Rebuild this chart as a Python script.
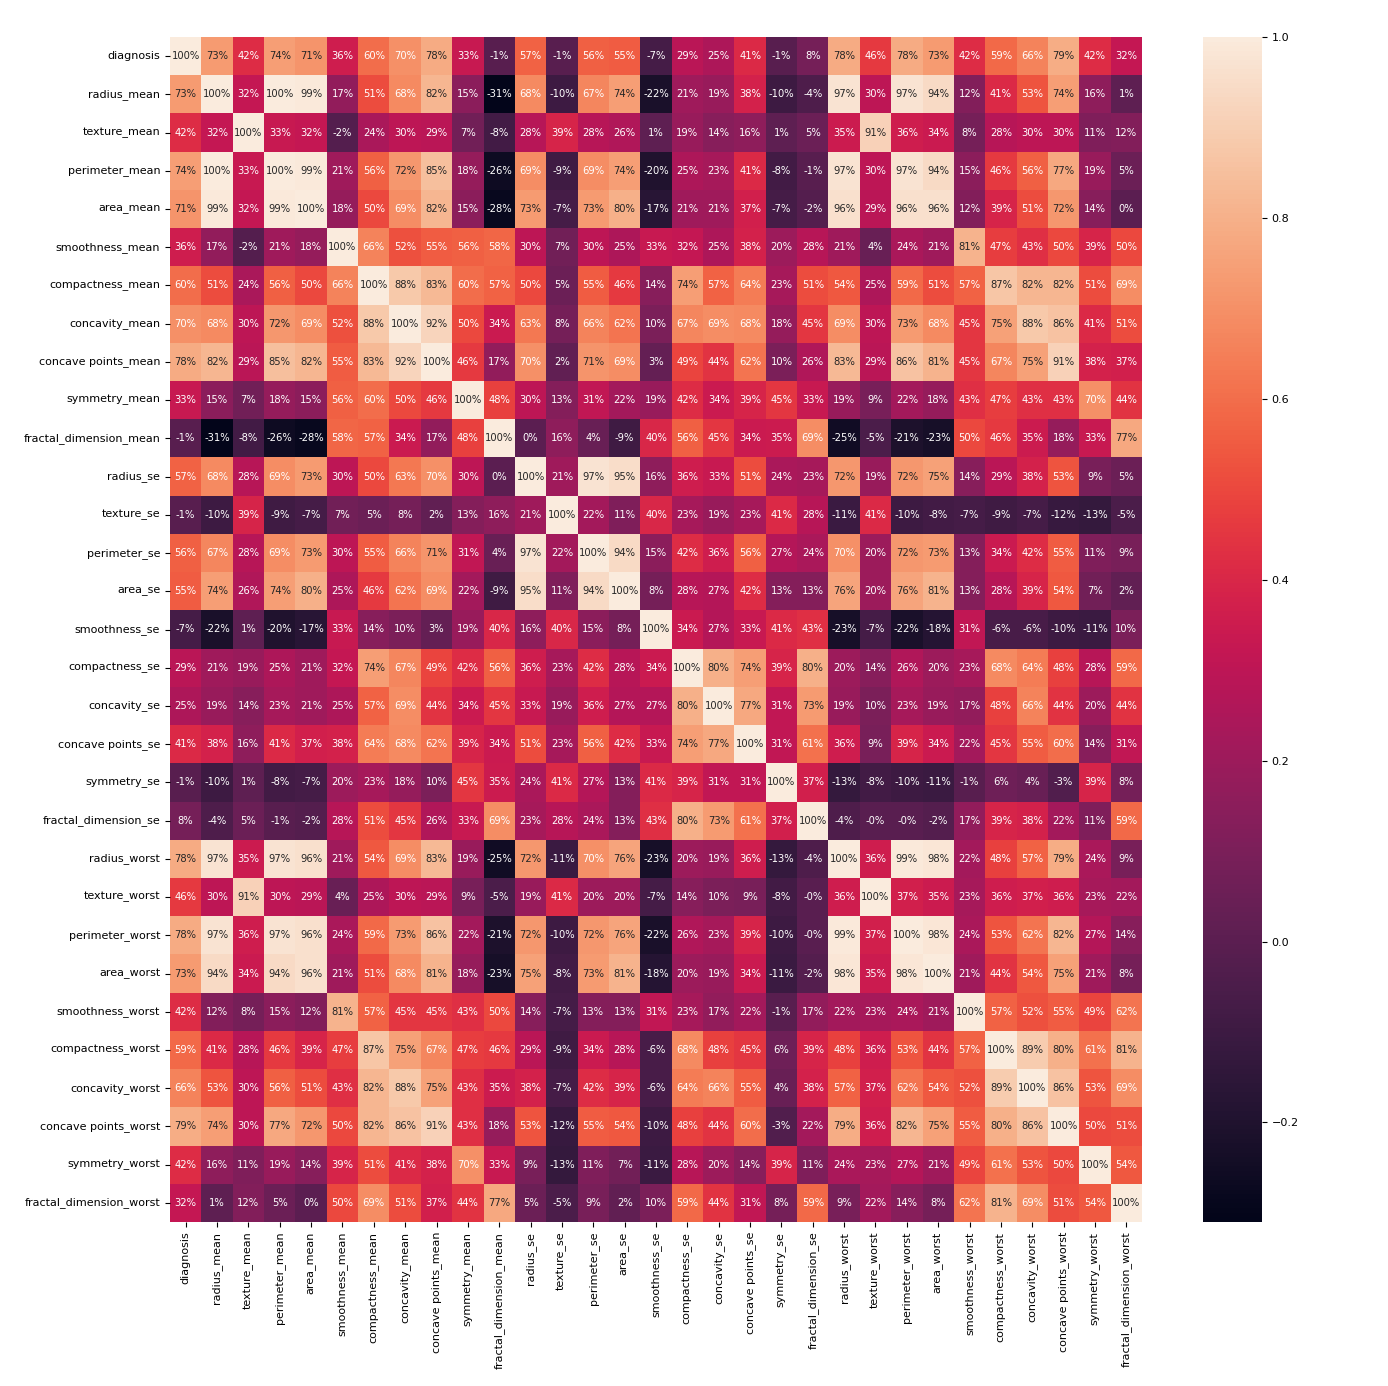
import numpy as np, pandas as pd, seaborn as sns, matplotlib
matplotlib.use("Agg")
import matplotlib.pyplot as plt

labels = ["diagnosis","radius_mean","texture_mean","perimeter_mean","area_mean","smoothness_mean",
"compactness_mean","concavity_mean","concave points_mean","symmetry_mean","fractal_dimension_mean",
"radius_se","texture_se","perimeter_se","area_se","smoothness_se","compactness_se","concavity_se",
"concave points_se","symmetry_se","fractal_dimension_se","radius_worst","texture_worst","perimeter_worst",
"area_worst","smoothness_worst","compactness_worst","concavity_worst","concave points_worst",
"symmetry_worst","fractal_dimension_worst"]

Z = -0.4  # shown as "-0%"
rows = [
[100,73,42,74,71,36,60,70,78,33,-1,57,-1,56,55,-7,29,25,41,-1,8,78,46,78,73,42,59,66,79,42,32],
[73,100,32,100,99,17,51,68,82,15,-31,68,-10,67,74,-22,21,19,38,-10,-4,97,30,97,94,12,41,53,74,16,1],
[42,32,100,33,32,-2,24,30,29,7,-8,28,39,28,26,1,19,14,16,1,5,35,91,36,34,8,28,30,30,11,12],
[74,100,33,100,99,21,56,72,85,18,-26,69,-9,69,74,-20,25,23,41,-8,-1,97,30,97,94,15,46,56,77,19,5],
[71,99,32,99,100,18,50,69,82,15,-28,73,-7,73,80,-17,21,21,37,-7,-2,96,29,96,96,12,39,51,72,14,0],
[36,17,-2,21,18,100,66,52,55,56,58,30,7,30,25,33,32,25,38,20,28,21,4,24,21,81,47,43,50,39,50],
[60,51,24,56,50,66,100,88,83,60,57,50,5,55,46,14,74,57,64,23,51,54,25,59,51,57,87,82,82,51,69],
[70,68,30,72,69,52,88,100,92,50,34,63,8,66,62,10,67,69,68,18,45,69,30,73,68,45,75,88,86,41,51],
[78,82,29,85,82,55,83,92,100,46,17,70,2,71,69,3,49,44,62,10,26,83,29,86,81,45,67,75,91,38,37],
[33,15,7,18,15,56,60,50,46,100,48,30,13,31,22,19,42,34,39,45,33,19,9,22,18,43,47,43,43,70,44],
[-1,-31,-8,-26,-28,58,57,34,17,48,100,0,16,4,-9,40,56,45,34,35,69,-25,-5,-21,-23,50,46,35,18,33,77],
[57,68,28,69,73,30,50,63,70,30,0,100,21,97,95,16,36,33,51,24,23,72,19,72,75,14,29,38,53,9,5],
[-1,-10,39,-9,-7,7,5,8,2,13,16,21,100,22,11,40,23,19,23,41,28,-11,41,-10,-8,-7,-9,-7,-12,-13,-5],
[56,67,28,69,73,30,55,66,71,31,4,97,22,100,94,15,42,36,56,27,24,70,20,72,73,13,34,42,55,11,9],
[55,74,26,74,80,25,46,62,69,22,-9,95,11,94,100,8,28,27,42,13,13,76,20,76,81,13,28,39,54,7,2],
[-7,-22,1,-20,-17,33,14,10,3,19,40,16,40,15,8,100,34,27,33,41,43,-23,-7,-22,-18,31,-6,-6,-10,-11,10],
[29,21,19,25,21,32,74,67,49,42,56,36,23,42,28,34,100,80,74,39,80,20,14,26,20,23,68,64,48,28,59],
[25,19,14,23,21,25,57,69,44,34,45,33,19,36,27,27,80,100,77,31,73,19,10,23,19,17,48,66,44,20,44],
[41,38,16,41,37,38,64,68,62,39,34,51,23,56,42,33,74,77,100,31,61,36,9,39,34,22,45,55,60,14,31],
[-1,-10,1,-8,-7,20,23,18,10,45,35,24,41,27,13,41,39,31,31,100,37,-13,-8,-10,-11,-1,6,4,-3,39,8],
[8,-4,5,-1,-2,28,51,45,26,33,69,23,28,24,13,43,80,73,61,37,100,-4,Z,Z,-2,17,39,38,22,11,59],
[78,97,35,97,96,21,54,69,83,19,-25,72,-11,70,76,-23,20,19,36,-13,-4,100,36,99,98,22,48,57,79,24,9],
[46,30,91,30,29,4,25,30,29,9,-5,19,41,20,20,-7,14,10,9,-8,Z,36,100,37,35,23,36,37,36,23,22],
[78,97,36,97,96,24,59,73,86,22,-21,72,-10,72,76,-22,26,23,39,-10,Z,99,37,100,98,24,53,62,82,27,14],
[73,94,34,94,96,21,51,68,81,18,-23,75,-8,73,81,-18,20,19,34,-11,-2,98,35,98,100,21,44,54,75,21,8],
[42,12,8,15,12,81,57,45,45,43,50,14,-7,13,13,31,23,17,22,-1,17,22,23,24,21,100,57,52,55,49,62],
[59,41,28,46,39,47,87,75,67,47,46,29,-9,34,28,-6,68,48,45,6,39,48,36,53,44,57,100,89,80,61,81],
[66,53,30,56,51,43,82,88,75,43,35,38,-7,42,39,-6,64,66,55,4,38,57,37,62,54,52,89,100,86,53,69],
[79,74,30,77,72,50,82,86,91,43,18,53,-12,55,54,-10,48,44,60,-3,22,79,36,82,75,55,80,86,100,50,51],
[42,16,11,19,14,39,51,41,38,70,33,9,-13,11,7,-11,28,20,14,39,11,24,23,27,21,49,61,53,50,100,54],
[32,1,12,5,0,50,69,51,37,44,77,5,-5,9,2,10,59,44,31,8,59,9,22,14,8,62,81,69,51,54,100],
]
df = pd.DataFrame(np.array(rows, dtype=float)/100, index=labels, columns=labels)

fig = plt.figure(figsize=(13.88, 13.86), dpi=100)
ax = fig.add_axes([170/1388, 1-1222/1386, 972/1388, 1185/1386])
cax = fig.add_axes([1203/1388, 1-1222/1386, 59/1388, 1185/1386])
sns.heatmap(df, annot=True, fmt=".0%", ax=ax, cbar_ax=cax, annot_kws={"size": 7.2})
ax.tick_params(labelsize=8)
cax.tick_params(labelsize=8)
plt.setp(ax.get_xticklabels(), rotation=90)
plt.setp(ax.get_yticklabels(), rotation=0)
fig.savefig("out.png", dpi=100)
